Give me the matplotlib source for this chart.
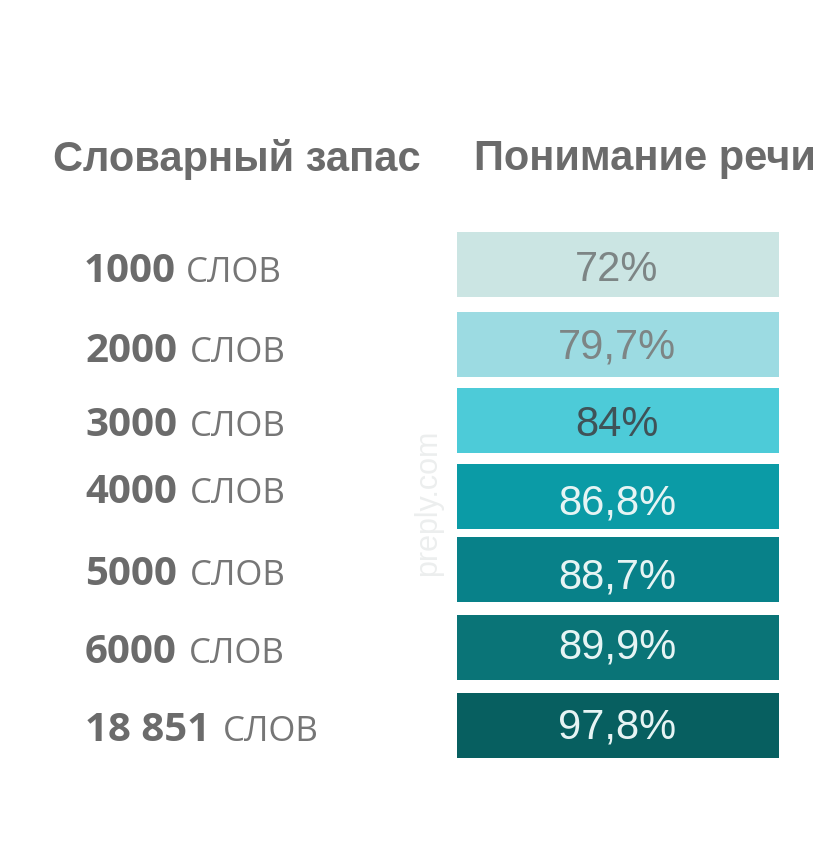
import matplotlib
matplotlib.use('Agg')
import matplotlib.pyplot as plt

words = ['1000', '2000', '3000', '4000', '5000', '6000', '18 851']
percents = ['72%', '79,7%', '84%', '86,8%', '88,7%', '89,9%', '97,8%']
bar_colors = ['#cbe5e3', '#9cdbe2', '#4dcbd8', '#0b9ba6', '#088189', '#0a7477', '#075f60']
text_colors = ['#7d8585', '#7d8585', '#3f5257', '#e6f4f4', '#e6f4f4', '#e6f4f4', '#e6f4f4']

# pixel layout of the picture
bar_tops = [232, 312, 388, 464, 537, 615, 693]
bar_height = 65
percent_y = [270, 348, 425, 503, 577, 647, 728]
word_base = [282, 362, 436, 503, 585, 663, 741]
word_x = [84, 85, 85, 85, 85, 85, 85]
unit_x = [186, 190, 190, 190, 190, 189, 223]
GREY = '#6b6b6b'

fig = plt.figure(figsize=(8.28, 8.42), dpi=100)
ax = fig.add_axes([0, 0, 1, 1])
ax.set_xlim(0, 828)
ax.set_ylim(842, 0)
ax.axis('off')

ax.text(53, 171, 'Словарный запас', fontsize=30, fontweight='bold', color=GREY,
        family='Liberation Sans', va='baseline')
ax.text(474, 170, 'Понимание речи', fontsize=30, fontweight='bold', color=GREY,
        family='Liberation Sans', va='baseline')

for i in range(len(words)):
    y = bar_tops[i] + bar_height / 2
    ax.barh(y, 322, height=bar_height, left=457, color=bar_colors[i])
    ax.text(617, percent_y[i], percents[i], fontsize=30, color=text_colors[i],
            family='Liberation Sans', ha='center', va='center')
    ax.text(word_x[i], word_base[i], words[i], fontsize=29, fontweight='bold', color=GREY,
            family='Open Sans', va='baseline')
    ax.text(unit_x[i], word_base[i], 'СЛОВ', fontsize=25, color='#767676',
            family='Open Sans', va='baseline')

ax.text(428, 503, 'preply.com', fontsize=22, color='#eceeee', rotation=90,
        family='Liberation Sans', ha='center', va='center')

fig.savefig('out.png', dpi=100)
